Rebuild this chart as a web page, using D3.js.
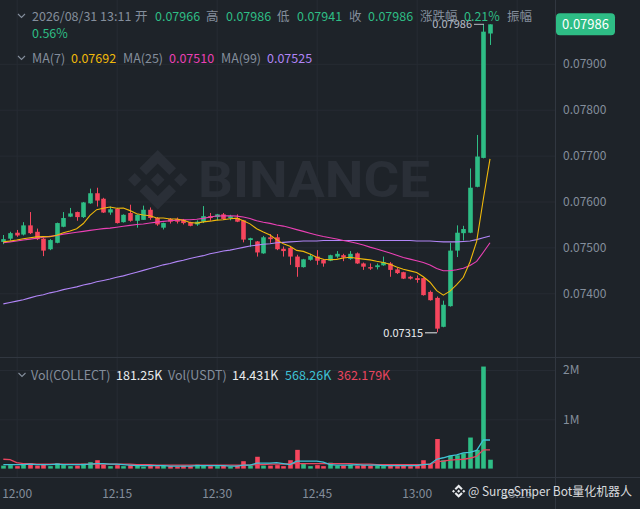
<!DOCTYPE html>
<html><head><meta charset="utf-8">
<script src="https://cdn.jsdelivr.net/npm/d3@7/dist/d3.min.js"></script>
<style>
html,body{margin:0;padding:0;background:#1e2329;overflow:hidden;}
svg{display:block;font-family:"Noto Sans CJK SC","Noto Sans",sans-serif;}
</style></head><body>
<svg id="c" width="640" height="509"></svg>
<script>
// ---------- data ----------
const firstCandle = "2026-08-31T11:58:00";
const openP  = [.07512,.07519,.07532,.07528,.07548,.07534,.07519,.07496,.07510,.07545,.07567,.07577,.07566,.07596,.07618,.07606,.07576,.07584,.07555,.07575,.07558,.07560,.07582,.07564,.07543,.07562,.07562,.07560,.07555,.07550,.07556,.07568,.07566,.07572,.07564,.07564,.07559,.07516,.07513,.07487,.07522,.07522,.07497,.07499,.07480,.07457,.07473,.07480,.07473,.07471,.07480,.07483,.07475,.07487,.07465,.07457,.07457,.07461,.07465,.07452,.07446,.07436,.07433,.07433,.07403,.07390,.07327,.07372,.07493,.07531,.07532,.07632,.07695,.07966];
const highP  = [.07527,.07534,.07538,.07555,.07577,.07541,.07521,.07518,.07554,.07577,.07586,.07578,.07599,.07628,.07630,.07608,.07589,.07586,.07572,.07593,.07572,.07591,.07587,.07566,.07554,.07564,.07565,.07562,.07556,.07559,.07590,.07575,.07573,.07575,.07571,.07572,.07560,.07521,.07514,.07525,.07529,.07529,.07502,.07502,.07484,.07475,.07486,.07494,.07475,.07484,.07492,.07486,.07492,.07489,.07467,.07465,.07465,.07480,.07468,.07455,.07447,.07438,.07439,.07434,.07406,.07393,.07384,.07510,.07548,.07547,.07672,.07745,.07986,.07986];
const lowP   = [.07507,.07515,.07523,.07526,.07529,.07516,.07481,.07494,.07509,.07544,.07566,.07558,.07564,.07595,.07589,.07575,.07571,.07552,.07554,.07556,.07543,.07560,.07560,.07547,.07539,.07552,.07552,.07550,.07546,.07547,.07553,.07558,.07559,.07560,.07559,.07555,.07511,.07501,.07480,.07486,.07510,.07494,.07480,.07462,.07436,.07456,.07471,.07462,.07458,.07470,.07477,.07470,.07473,.07464,.07451,.07451,.07452,.07460,.07436,.07442,.07431,.07430,.07423,.07395,.07384,.07315,.07326,.07371,.07479,.07515,.07531,.07631,.07694,.07941];
const closeP = [.07518,.07531,.07526,.07548,.07531,.07518,.07493,.07516,.07553,.07564,.07574,.07566,.07598,.07618,.07602,.07576,.07583,.07553,.07571,.07558,.07571,.07582,.07564,.07550,.07553,.07556,.07556,.07553,.07547,.07556,.07568,.07564,.07572,.07562,.07568,.07556,.07517,.07520,.07489,.07522,.07518,.07496,.07492,.07480,.07457,.07474,.07481,.07471,.07465,.07483,.07486,.07478,.07486,.07465,.07458,.07454,.07461,.07468,.07451,.07444,.07432,.07432,.07429,.07396,.07385,.07323,.07375,.07493,.07532,.07540,.07630,.07698,.07970,.07986];
const volume = [0.06,0.07,0.05,0.08,0.11,0.06,0.09,0.05,0.11,0.07,0.05,0.06,0.10,0.13,0.17,0.08,0.05,0.07,0.05,0.07,0.06,0.04,0.07,0.05,0.06,0.05,0.04,0.06,0.05,0.08,0.07,0.05,0.05,0.06,0.04,0.06,0.15,0.06,0.24,0.06,0.06,0.07,0.05,0.17,0.38,0.10,0.05,0.07,0.05,0.12,0.06,0.06,0.08,0.06,0.07,0.06,0.06,0.05,0.07,0.05,0.06,0.05,0.06,0.17,0.10,0.60,0.17,0.26,0.27,0.31,0.63,0.38,2.07,0.18]; // millions
// moving-average values before enough history is visible
const ma7Lead  = [.07512,.07514,.07516,.07519,.07521,.07523];
const ma25Lead = [.07510,.07512,.07514,.07516,.07518,.07520,.07522,.07524,.07526,.07529,.07531,.07533,.07535,.07537,.07539,.07541,.07542,.07544,.07546,.07548,.07550,.07551,.07553,.07555];
const ma99 = [.07377,.07380,.07383,.07386,.07390,.07394,.07397,.07401,.07404,.07408,.07411,.07414,.07418,.07421,.07425,.07428,.07431,.07435,.07438,.07442,.07446,.07450,.07454,.07458,.07462,.07465,.07469,.07472,.07476,.07479,.07482,.07486,.07489,.07492,.07494,.07497,.07500,.07503,.07505,.07507,.07508,.07510,.07511,.07512,.07513,.07514,.07514,.07514,.07515,.07515,.07515,.07515,.07515,.07515,.07515,.07515,.07515,.07515,.07515,.07515,.07515,.07515,.07514,.07514,.07514,.07513,.07512,.07512,.07512,.07513,.07514,.07517,.07521,.07525];
const volMa5  = [0.08,0.08,0.08,0.08,0.09,0.08,0.08,0.08,0.09,0.08,0.08,0.08,0.08,0.09,0.10,0.10,0.09,0.09,0.08,0.07,0.06,0.06,0.06,0.06,0.06,0.05,0.05,0.05,0.05,0.06,0.06,0.06,0.06,0.06,0.05,0.05,0.07,0.07,0.11,0.11,0.11,0.12,0.10,0.08,0.15,0.15,0.15,0.15,0.13,0.08,0.07,0.07,0.07,0.08,0.07,0.07,0.07,0.06,0.06,0.06,0.06,0.06,0.06,0.08,0.09,0.19,0.22,0.26,0.28,0.32,0.33,0.37,0.58,0.58];
const volMa10 = [0.19,0.18,0.12,0.10,0.10,0.09,0.09,0.09,0.09,0.09,0.09,0.09,0.09,0.09,0.09,0.09,0.09,0.09,0.09,0.09,0.08,0.08,0.08,0.07,0.07,0.07,0.07,0.07,0.07,0.07,0.07,0.07,0.07,0.07,0.07,0.07,0.07,0.07,0.08,0.08,0.09,0.09,0.09,0.10,0.10,0.10,0.10,0.10,0.10,0.10,0.10,0.10,0.10,0.09,0.09,0.09,0.08,0.08,0.08,0.08,0.08,0.08,0.08,0.08,0.09,0.14,0.15,0.17,0.18,0.19,0.21,0.25,0.38,0.38];
const priceTicks = [0.074,0.075,0.076,0.077,0.078,0.079];
const volTicks = [1, 2];
const volTickLabels = ["1M","2M"];
const timeTicks = ["12:00","12:15","12:30","12:45","13:00","13:15"];
const lastPrice = 0.07986;
const headerItems = [["2026/08/31 13:11",32,"#848e9c"],["开",135,"#848e9c"],["0.07966",155,"g"],["高",206,"#848e9c"],["0.07986",226,"g"],["低",277,"#848e9c"],["0.07941",297,"g"],["收",349,"#848e9c"],["0.07986",368,"g"],["涨跌幅",420,"#848e9c"],["0.21%",464,"g"],["振幅",507,"#848e9c"]];
const headerLine2 = [["0.56%",32,"g"]];
const maLegend = [["MA(7)",32,"#848e9c"],["0.07692",71,"#f0b90b"],["MA(25)",123,"#848e9c"],["0.07510",169,"#eb40b5"],["MA(99)",221,"#848e9c"],["0.07525",267,"#b185f7"]];
const volLegend = [["Vol(COLLECT)",31,"#848e9c"],["181.25K",116,"#eaecef"],["Vol(USDT)",168,"#848e9c"],["14.431K",232,"#eaecef"],["568.26K",285,"#3fc2d6"],["362.179K",337,"#e8455f"]];

// ---------- layout ----------
const W = 640, H = 509;
const axisX = 555, priceBottom = 357, volTop = 358, volBottom = 477;
const GREEN = "#2ebd85", RED = "#f6465d", GRID = "#262b33", SEP = "#313740", TXT = "#848e9c";

const svg = d3.select("#c");
svg.append("rect").attr("width",W).attr("height",H).attr("fill","#1e2329");

const t0 = new Date(firstCandle);
const times = closeP.map((_,i)=> new Date(t0.getTime() + i*60000));
const parseHM = s => { const [h,m]=s.split(":").map(Number); const d=new Date(t0); d.setHours(h,m,0,0); return d; };
const x = d3.scaleTime().domain([parseHM("12:00"), parseHM("12:15")]).range([16.67, 116.67]);
const y = d3.scaleLinear().domain([0.074, 0.079]).range([293.3, 63.8]);
const yv = d3.scaleLinear().domain([0, 2]).range([468.6, 370]);

const defs = svg.append("defs");
defs.append("clipPath").attr("id","cp").append("rect").attr("x",0).attr("y",0).attr("width",axisX).attr("height",priceBottom);
defs.append("clipPath").attr("id","cv").append("rect").attr("x",0).attr("y",volTop).attr("width",axisX).attr("height",volBottom-volTop);

// grid
const gGrid = svg.append("g");
gGrid.append("g").attr("transform",`translate(0,0)`)
  .call(d3.axisBottom(x).tickValues(timeTicks.map(parseHM)).tickSize(volBottom).tickFormat(""))
  .call(g=>{g.select(".domain").remove(); g.selectAll("line").attr("stroke",GRID);});
gGrid.append("g").attr("transform",`translate(${axisX},0)`)
  .call(d3.axisLeft(y).tickValues(priceTicks).tickSize(axisX).tickFormat(""))
  .call(g=>{g.select(".domain").remove(); g.selectAll("line").attr("stroke",GRID);});
gGrid.append("g").attr("transform",`translate(${axisX},0)`)
  .call(d3.axisLeft(yv).tickValues(volTicks).tickSize(axisX).tickFormat(""))
  .call(g=>{g.select(".domain").remove(); g.selectAll("line").attr("stroke",GRID);});

// watermark
const logoPath = "M38.73 53.2l24.59-24.58 24.6 24.6 14.3-14.31L63.32 0 24.42 38.9zM0 63.31l14.3-14.31 14.31 14.31-14.31 14.3zM38.73 73.41l24.59 24.59 24.6-24.6 14.31 14.29-38.9 38.91-38.91-38.88-.02-.02zM98 63.31l14.3-14.31 14.31 14.3-14.31 14.32zM77.83 63.3L63.32 48.78 48.79 63.3 63.32 77.82z";
const wm = svg.append("g").attr("fill","#2a2f37");
wm.append("path").attr("d",logoPath).attr("transform","translate(128,150) scale(0.47)");
wm.append("text").attr("x",198).attr("y",197).attr("font-size",50).attr("font-weight",700)
  .attr("font-family","Roboto,'Noto Sans',sans-serif").attr("textLength",232).attr("lengthAdjust","spacingAndGlyphs").text("BINANCE");

// separators
svg.append("line").attr("x1",axisX+0.5).attr("x2",axisX+0.5).attr("y1",0).attr("y2",H).attr("stroke",SEP);
svg.append("line").attr("x1",0).attr("x2",W).attr("y1",priceBottom+0.5).attr("y2",priceBottom+0.5).attr("stroke",SEP);
svg.append("line").attr("x1",0).attr("x2",W).attr("y1",volBottom+0.5).attr("y2",volBottom+0.5).attr("stroke",SEP);

// candles
const data = times.map((t,i)=>({t,o:openP[i],h:highP[i],l:lowP[i],c:closeP[i],v:volume[i]}));
const bw = 4.6;
const gc = svg.append("g").attr("clip-path","url(#cp)");
const cg = gc.selectAll("g.k").data(data).join("g").attr("class","k");
cg.append("line").attr("x1",d=>Math.round(x(d.t))+0.5).attr("x2",d=>Math.round(x(d.t))+0.5)
  .attr("y1",d=>y(d.h)).attr("y2",d=>y(d.l)).attr("stroke",d=>d.c>=d.o?GREEN:RED).attr("stroke-width",1);
cg.append("rect").attr("x",d=>Math.round(x(d.t))+0.5-bw/2).attr("width",bw)
  .attr("y",d=>y(Math.max(d.o,d.c))).attr("height",d=>Math.max(1,Math.abs(y(d.o)-y(d.c))))
  .attr("fill",d=>d.c>=d.o?GREEN:RED);

// moving averages
function sma(arr, n, lead){ return arr.map((_,i)=> i < n-1 ? lead[i] : d3.mean(arr.slice(i-n+1,i+1))); }
const ma7 = sma(closeP,7,ma7Lead), ma25 = sma(closeP,25,ma25Lead);
const line = d3.line().x((d,i)=>x(times[i])).y(d=>y(d));
[[ma99,"#b185f7"],[ma25,"#eb40b5"],[ma7,"#f0b90b"]].forEach(([s,col])=>{
  gc.append("path").attr("d",line(s)).attr("fill","none").attr("stroke",col).attr("stroke-width",1.1);
});

// high / low markers
const iHigh = d3.maxIndex(highP), iLow = d3.minIndex(lowP);
const hx = Math.round(x(times[iHigh])), hy = y(highP[iHigh]);
svg.append("line").attr("x1",hx-9).attr("x2",hx+1).attr("y1",hy).attr("y2",hy).attr("stroke","#b7bdc6");
svg.append("text").attr("x",hx-11).attr("y",hy+4).attr("text-anchor","end").attr("font-size",11).attr("fill","#b7bdc6").text(d3.format(".5f")(highP[iHigh]));
const lx = Math.round(x(times[iLow])), ly = y(lowP[iLow]);
svg.append("line").attr("x1",lx-12).attr("x2",lx).attr("y1",ly+0.5).attr("y2",ly+0.5).attr("stroke","#eaecef");
svg.append("text").attr("x",lx-14).attr("y",ly+4.5).attr("text-anchor","end").attr("font-size",11).attr("fill","#eaecef").text(d3.format(".5f")(lowP[iLow]));

// volume
const gv = svg.append("g").attr("clip-path","url(#cv)");
gv.selectAll("rect").data(data).join("rect")
  .attr("x",d=>Math.round(x(d.t))+0.5-bw/2).attr("width",bw)
  .attr("y",d=>yv(d.v)).attr("height",d=>yv(0)-yv(d.v))
  .attr("fill",d=>d.c>=d.o?GREEN:RED);
const vline = d3.line().x((d,i)=>x(times[i])).y(d=>yv(d));
gv.append("path").attr("d",vline(volMa10)).attr("fill","none").attr("stroke","#e8455f").attr("stroke-width",1.3);
gv.append("path").attr("d",vline(volMa5)).attr("fill","none").attr("stroke","#3fc2d6").attr("stroke-width",1.3);

// axes
const ya = svg.append("g").attr("transform",`translate(${axisX},0)`)
  .call(d3.axisRight(y).tickValues(priceTicks).tickSize(0).tickPadding(8).tickFormat(d3.format(".5f")));
ya.select(".domain").remove();
ya.selectAll("text").attr("fill",TXT).attr("font-size",12).attr("font-family","'Noto Sans CJK SC','Noto Sans',sans-serif");
const yva = svg.append("g").attr("transform",`translate(${axisX},0)`)
  .call(d3.axisRight(yv).tickValues(volTicks).tickSize(0).tickPadding(8).tickFormat((d,i)=>volTickLabels[i]));
yva.select(".domain").remove();
yva.selectAll("text").attr("fill",TXT).attr("font-size",12).attr("font-family","'Noto Sans CJK SC','Noto Sans',sans-serif");
const xa = svg.append("g").attr("transform",`translate(0,${volBottom})`)
  .call(d3.axisBottom(x).tickValues(timeTicks.map(parseHM)).tickSize(0).tickPadding(12).tickFormat(d3.timeFormat("%H:%M")));
xa.select(".domain").remove();
xa.selectAll("text").attr("fill",TXT).attr("font-size",12).attr("font-family","'Noto Sans CJK SC','Noto Sans',sans-serif");

// current price tag
const tagY = y(lastPrice);
svg.append("rect").attr("x",556).attr("y",tagY-11).attr("width",59).attr("height",22).attr("rx",4).attr("fill",GREEN);
svg.append("text").attr("x",585.5).attr("y",tagY+4.5).attr("text-anchor","middle").attr("font-size",13).attr("fill","#ffffff").text(d3.format(".5f")(lastPrice));

// legends
function chevron(cx, cy){ svg.append("path").attr("d",`M${cx-3.5},${cy-2} L${cx},${cy+1.5} L${cx+3.5},${cy-2}`).attr("fill","none").attr("stroke",TXT).attr("stroke-width",1.1); }
function row(items, yy){ items.forEach(([t,xx,c])=>svg.append("text").attr("x",xx).attr("y",yy).attr("font-size",12.5).attr("fill",c==="g"?GREEN:c).text(t)); }
chevron(21.5,16); row(headerItems, 20.5); row(headerLine2, 37.5);
chevron(21.5,58); row(maLegend, 62.5);
chevron(22,375); row(volLegend, 379.5);

// bottom-right watermark
const wm2 = svg.append("g").attr("fill","#eaecef");
wm2.append("path").attr("d",logoPath).attr("transform","translate(452,484.5) scale(0.105)");
svg.append("text").attr("x",468).attr("y",496).attr("font-size",12.5).attr("fill","#eaecef").attr("fill-opacity",0.92)
  .attr("textLength",164).attr("lengthAdjust","spacingAndGlyphs").text("@ SurgeSniper Bot量化机器人");
</script>
</body></html>
